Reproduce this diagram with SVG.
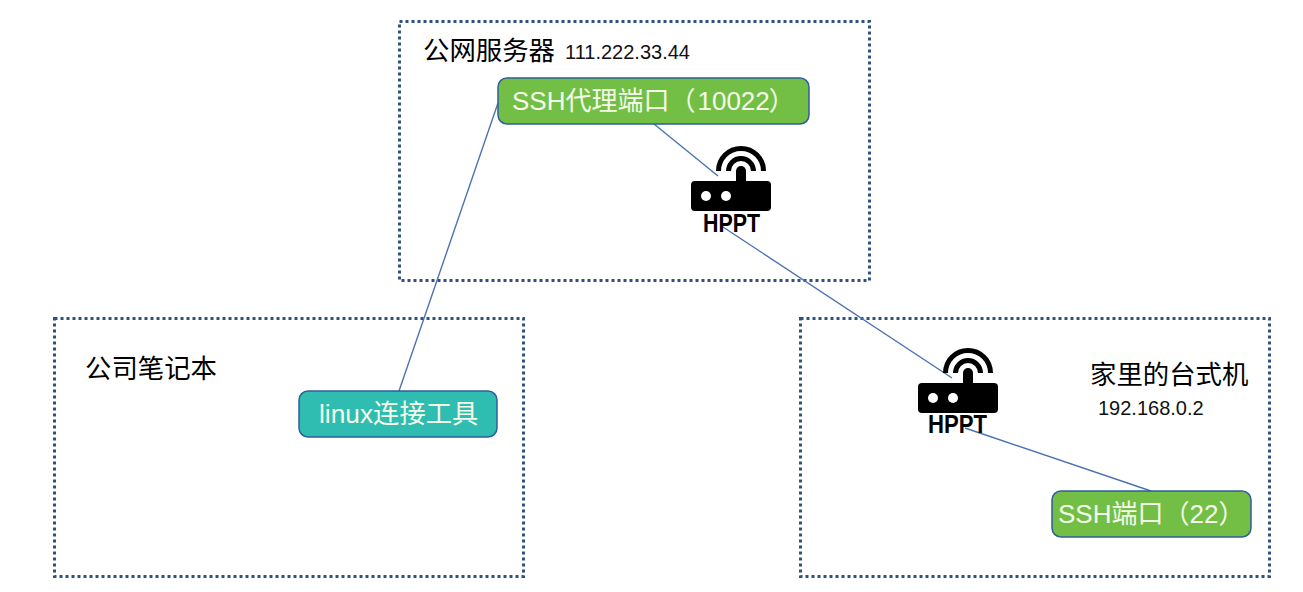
<svg xmlns="http://www.w3.org/2000/svg" width="1303" height="592" viewBox="0 0 1303 592">
<style>
.frame{fill:none;stroke:#2f5082;stroke-width:3;stroke-dasharray:3 3}
.box{stroke:#2f5f9a;stroke-width:1.5}
.green{fill:#73bf45}
.teal{fill:#2ebdb0}
.link{fill:none;stroke:#4a72b2;stroke-width:1.4}
text{font-family:"Liberation Sans","Noto Sans CJK SC",sans-serif}
.lbl{font-size:26.4px;fill:#000}
.ip{font-size:20px;fill:#111}
.wht{font-size:26px;fill:#f4fbe9}
.hp{font-size:25px;font-weight:700;fill:#000;text-anchor:middle}
.arc{fill:none;stroke:#000;stroke-width:5}
</style>
<defs>
<g id="router">
<rect x="0" y="35" width="80" height="30" rx="4" fill="#000"/>
<circle cx="15" cy="50" r="5" fill="#fff"/>
<circle cx="35" cy="50" r="5" fill="#fff"/>
<path d="M50 37V25" stroke="#000" stroke-width="10" stroke-linecap="round" fill="none"/>
<path class="arc" d="M27.500 25A22.500 22.500 0 0 1 72.500 25"/>
<path class="arc" d="M37.500 25A12.500 12.500 0 0 1 62.500 25"/>
</g>
</defs>
<rect width="1303" height="592" fill="#fff"/>
<g id="frame-server"><rect class="frame" x="399.500" y="21.500" width="470" height="259"/></g>
<g id="frame-laptop"><rect class="frame" x="54.500" y="318.500" width="469" height="258"/></g>
<g id="frame-home"><rect class="frame" x="800.500" y="318.500" width="469" height="258"/></g>
<g id="connectors">
<path class="link" d="M498 103L399 391"/>
<path class="link" d="M654 124L718 176"/>
<path class="link" d="M723 227L952 378"/>
<path class="link" d="M965 428L1151 491"/>
</g>
<g id="label-server"><text class="lbl" x="423" y="60">公网服务器</text><text class="ip" x="565" y="59">111.222.33.44</text></g>
<g id="label-laptop"><text class="lbl" x="85" y="378">公司笔记本</text></g>
<g id="label-home"><text class="lbl" x="1090" y="384">家里的台式机</text><text class="ip" x="1098" y="415">192.168.0.2</text></g>
<g id="node-proxy"><rect class="box green" x="498" y="78" width="311" height="46" rx="9"/><text class="wht" x="512" y="110">SSH代理端口（<tspan dx="2">10022</tspan><tspan dx="-1">）</tspan></text></g>
<g id="node-tool"><rect class="box teal" x="299" y="391" width="198" height="46" rx="9"/><text class="wht" x="319" y="423" style="font-size:26.3px">linux连接工具</text></g>
<g id="node-ssh"><rect class="box green" x="1052" y="491" width="199" height="46" rx="9"/><text class="wht" x="1058" y="523">SSH端口（22）</text></g>
<g id="router-1"><use href="#router" x="691" y="146"/><text class="hp" x="731.500" y="232" textLength="57" lengthAdjust="spacingAndGlyphs">HPPT</text></g>
<g id="router-2"><use href="#router" x="918" y="348"/><text class="hp" x="957.500" y="433" textLength="59" lengthAdjust="spacingAndGlyphs">HPPT</text></g>
</svg>
